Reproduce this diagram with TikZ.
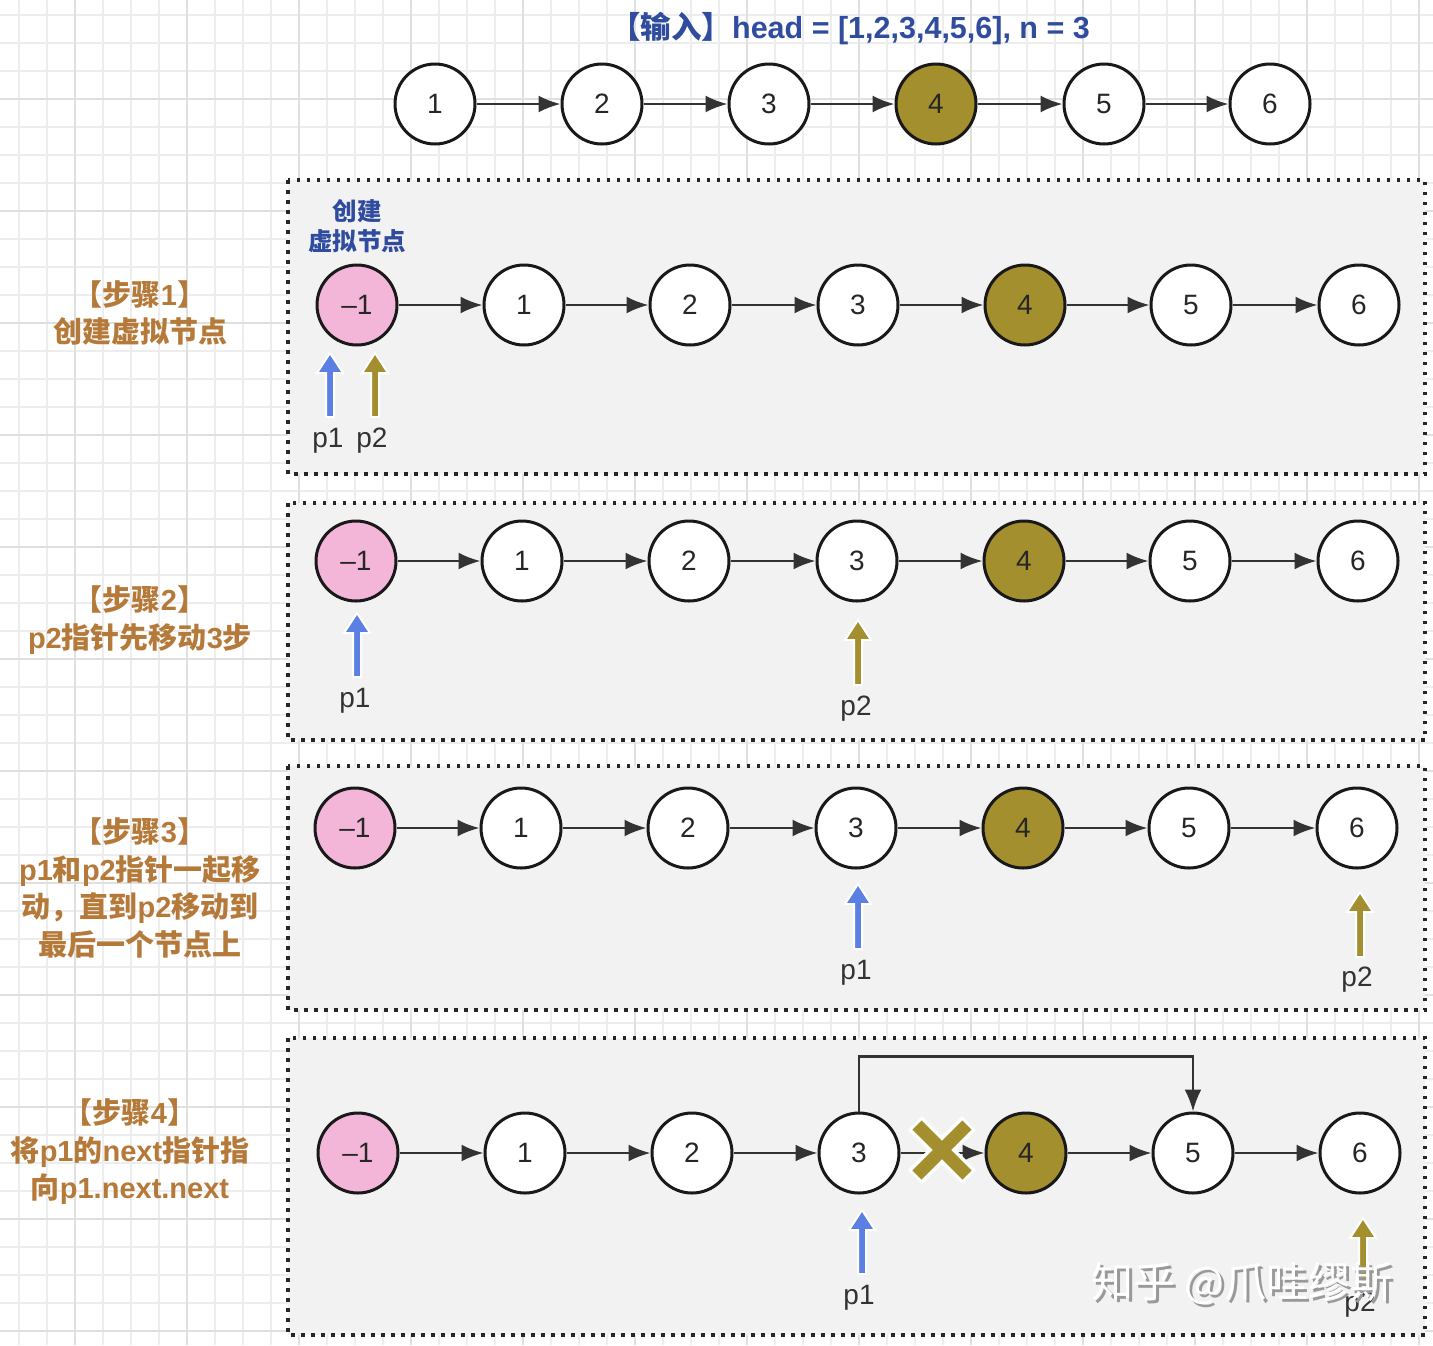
\documentclass[tikz,border=0pt]{standalone}
\usepackage{fontspec}
\setmainfont{Liberation Sans}
\newfontfamily\cjk{Noto Sans CJK SC}
\newcommand\lt[1]{{\rmfamily #1}}
\usetikzlibrary{arrows.meta}
\definecolor{olive}{HTML}{A48F2E}
\definecolor{ptrblue}{HTML}{5B7FE3}
\definecolor{stepbrown}{HTML}{B57A3A}
\definecolor{titleblue}{HTML}{2F4C9F}
\definecolor{panelfill}{HTML}{F2F2F2}
\definecolor{gridminor}{HTML}{EDEDED}
\definecolor{gridmajor}{HTML}{E0E0E0}
\definecolor{dummypink}{HTML}{F4B6D8}
\definecolor{linkgray}{HTML}{333333}
\tikzset{
  lnode/.style={circle, minimum size=80pt, inner sep=0pt, draw=black!90, line width=3pt, fill=white,
     font=\fontsize{28}{28}\selectfont, text=black!85},
  hit/.style={lnode, fill=olive},
  dummy/.style={lnode, fill=dummypink},
  link/.style={draw=linkgray, line width=2.5pt, -{Latex[length=22pt,width=17pt]}},
  panel/.style={fill=panelfill, draw=black!85, line width=3.5pt, dash pattern=on 3.5pt off 6.5pt},
  steptext/.style={text=stepbrown, font=\cjk\bfseries\fontsize{29}{37.5}\selectfont, align=center},
  ptrlabel/.style={text=black!80, font=\fontsize{28}{28}\selectfont},
}
\newcommand\ptrarrow[4]{%
  \filldraw[fill=#4, draw=white, line width=2pt, line join=miter]
    (#1-4,#3) -- (#1-4,#2+20) -- (#1-13,#2+20) -- (#1,#2) -- (#1+13,#2+20) -- (#1+4,#2+20) -- (#1+4,#3) -- cycle;}
\begin{document}
\begin{tikzpicture}[x=1pt,y=-1pt]
\useasboundingbox (0,0) rectangle (1433,1345);
\fill[white] (0,0) rectangle (1433,1345);
% grid
\foreach \gx in {19,47,...,1433} \draw[gridminor, line width=1.2pt] (\gx,0) -- (\gx,1345);
\foreach \gy in {15,43,...,1345} \draw[gridminor, line width=1.2pt] (0,\gy) -- (1433,\gy);
\foreach \gx in {75,187,...,1433} \draw[gridmajor, line width=1.6pt] (\gx,0) -- (\gx,1345);
\foreach \gy in {99,211,...,1345} \draw[gridmajor, line width=1.6pt] (0,\gy) -- (1433,\gy);

% title
\node[text=titleblue, font=\cjk\bfseries\fontsize{30.5}{30.5}\selectfont] (title) at (850,28) {【输入】\lt{head = [1,2,3,4,5,6], n = 3}};
% top row
\node[lnode] (t1) at (435,104) {1};
\node[lnode] (t2) at (602,104) {2};
\node[lnode] (t3) at (769,104) {3};
\node[hit]   (t4) at (936,104) {4};
\node[lnode] (t5) at (1104,104) {5};
\node[lnode] (t6) at (1270,104) {6};
\foreach \a/\b in {t1/t2,t2/t3,t3/t4,t4/t5,t5/t6} \draw[link] (\a) -- (\b);

% panels
\draw[panel] (288,180) rectangle (1425,474);
\draw[panel] (288,503) rectangle (1425,740);
\draw[panel] (288,766) rectangle (1425,1010);
\draw[panel] (288,1038) rectangle (1425,1335);

% step labels
\node[steptext] (s1) at (140,313) {【步骤\lt{1}】\\创建虚拟节点};
\node[steptext] (s2) at (140,620) {【步骤\lt{2}】\\\lt{p2}指针先移动\lt{3}步};
\node[steptext] (s3) at (140,888) {【步骤\lt{3}】\\\lt{p1}和\lt{p2}指针一起移\\动，直到\lt{p2}移动到\\最后一个节点上};
\node[steptext] (s4) at (130,1152) {【步骤\lt{4}】\\将\lt{p1}的\lt{next}指针指\\向\lt{p1.next.next}};

% panel 1
\node[text=titleblue, font=\cjk\bfseries\fontsize{24.5}{30}\selectfont, align=center] (dl) at (357,226) {创建\\虚拟节点};
\node[dummy] (a0) at (357,305) {–1};
\node[lnode] (a1) at (524,305) {1};
\node[lnode] (a2) at (690,305) {2};
\node[lnode] (a3) at (858,305) {3};
\node[hit]   (a4) at (1025,305) {4};
\node[lnode] (a5) at (1191,305) {5};
\node[lnode] (a6) at (1359,305) {6};
\foreach \a/\b in {a0/a1,a1/a2,a2/a3,a3/a4,a4/a5,a5/a6} \draw[link] (\a) -- (\b);
\ptrarrow{330}{353}{417}{ptrblue}
\ptrarrow{375}{353}{417}{olive}
\node[ptrlabel] (ap1) at (328,441) {p1};
\node[ptrlabel] (ap2) at (372,441) {p2};

% panel 2
\node[dummy] (b0) at (356,561) {–1};
\node[lnode] (b1) at (522,561) {1};
\node[lnode] (b2) at (689,561) {2};
\node[lnode] (b3) at (857,561) {3};
\node[hit]   (b4) at (1024,561) {4};
\node[lnode] (b5) at (1190,561) {5};
\node[lnode] (b6) at (1358,561) {6};
\foreach \a/\b in {b0/b1,b1/b2,b2/b3,b3/b4,b4/b5,b5/b6} \draw[link] (\a) -- (\b);
\ptrarrow{357}{613}{677}{ptrblue}
\ptrarrow{858}{620}{685}{olive}
\node[ptrlabel] (bp1) at (355,701) {p1};
\node[ptrlabel] (bp2) at (856,709) {p2};

% panel 3
\node[dummy] (c0) at (355,828) {–1};
\node[lnode] (c1) at (521,828) {1};
\node[lnode] (c2) at (688,828) {2};
\node[lnode] (c3) at (856,828) {3};
\node[hit]   (c4) at (1023,828) {4};
\node[lnode] (c5) at (1189,828) {5};
\node[lnode] (c6) at (1357,828) {6};
\foreach \a/\b in {c0/c1,c1/c2,c2/c3,c3/c4,c4/c5,c5/c6} \draw[link] (\a) -- (\b);
\ptrarrow{858}{884}{949}{ptrblue}
\ptrarrow{1360}{892}{957}{olive}
\node[ptrlabel] (cp1) at (856,973) {p1};
\node[ptrlabel] (cp2) at (1357,980) {p2};

% panel 4
\node[dummy] (d0) at (358,1153) {–1};
\node[lnode] (d1) at (525,1153) {1};
\node[lnode] (d2) at (692,1153) {2};
\node[lnode] (d3) at (859,1153) {3};
\node[hit]   (d4) at (1026,1153) {4};
\node[lnode] (d5) at (1193,1153) {5};
\node[lnode] (d6) at (1360,1153) {6};
\foreach \a/\b in {d0/d1,d1/d2,d2/d3,d3/d4,d4/d5,d5/d6} \draw[link] (\a) -- (\b);
\draw[link] (d3.north) -- ++(0,-55) -| (d5.north);
% cross
\draw[white, line width=20pt] (915,1123) -- (969,1177) (915,1177) -- (969,1123);
\draw[olive, line width=13pt] (917,1125) -- (967,1175) (917,1175) -- (967,1125);
\ptrarrow{862}{1210}{1274}{ptrblue}
\ptrarrow{1363}{1218}{1283}{olive}
\node[ptrlabel] (dp1) at (859,1298) {p1};
\node[ptrlabel] (dp2) at (1360,1305) {p2};

% watermark
\node[text=black!40, font=\cjk\fontsize{42}{42}\selectfont] (wms) at (1245,1286) {知乎 @爪哇缪斯};
\node[text=white, font=\cjk\fontsize{42}{42}\selectfont] (wm) at (1242,1283) {知乎 @爪哇缪斯};
\end{tikzpicture}
\end{document}
